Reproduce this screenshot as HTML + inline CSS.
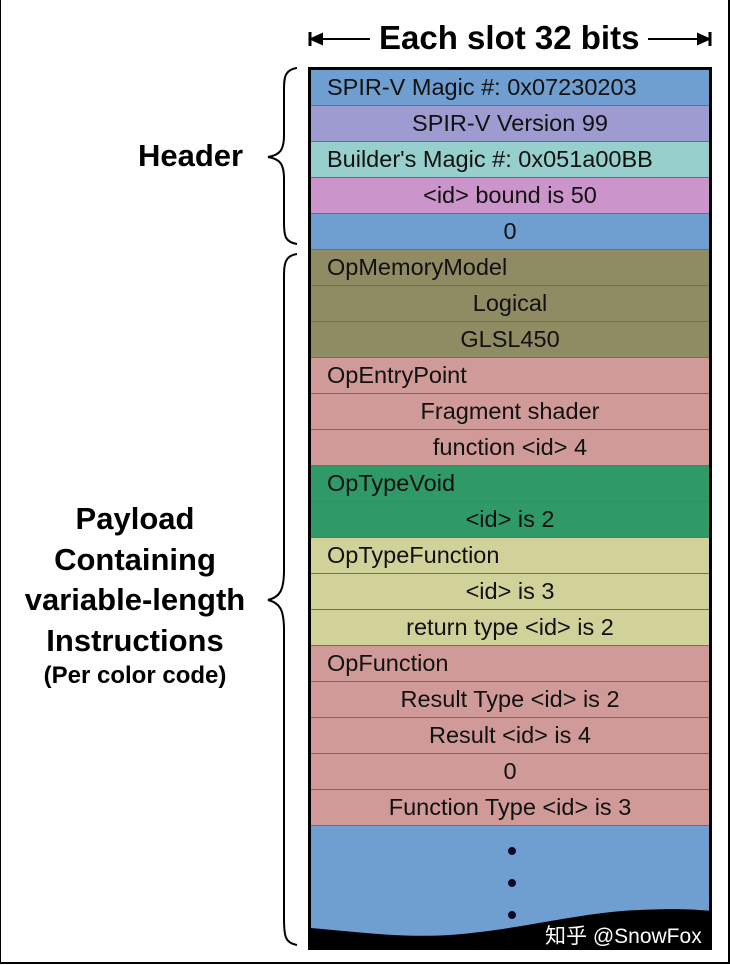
<!DOCTYPE html>
<html><head><style>
body{margin:0;width:730px;height:965px;background:#fff;position:relative;overflow:hidden;font-family:"Liberation Sans",sans-serif}
.frame{position:absolute;left:0;top:0;width:727px;height:962px;border:1px solid #000;border-width:0 2px 2px 1px}
.box{position:absolute;left:308px;top:67px;width:398px;height:877px;border:3px solid #000;background:#6f9fd1;overflow:hidden}
.r{height:35px;border-bottom:1px solid #5a6f9a;font-size:23.5px;line-height:35px;color:#111;text-align:center;white-space:nowrap}
.l{text-align:left;padding-left:16px}
.lab{position:absolute;font-weight:bold;text-align:center;color:#000;white-space:nowrap}
</style></head><body>
<div class="frame"></div>
<div class="lab" style="left:379px;top:19px;font-size:33px;line-height:38px">Each slot 32 bits</div>
<svg style="position:absolute;left:0;top:0" width="730" height="965">
<g stroke="#000" stroke-width="2" fill="#000">
<line x1="310" y1="39" x2="370" y2="39"/><line x1="310" y1="32" x2="310" y2="46" stroke-width="3"/>
<polygon points="311,39 322,34 322,44"/>
<line x1="648" y1="39" x2="710" y2="39"/><line x1="710" y1="32" x2="710" y2="46" stroke-width="3"/>
<polygon points="709,39 698,34 698,44"/>
</g>
<g fill="none" stroke="#000" stroke-width="2">
<path d="M297,68 C283,70 284,80 284,95 L284,135 C284,150 280,155 268,157 C280,159 284,164 284,179 L284,222 C284,236 285,242 297,244"/>
<path d="M297,254 C283,256 284,266 284,285 L284,570 C284,590 280,597 268,600 C280,603 284,610 284,630 L284,918 C284,936 285,943 297,945"/>
</g>
</svg>
<div class="lab" style="left:138px;top:137px;font-size:31px;line-height:38px">Header</div>
<div class="lab" style="left:0px;top:499px;width:270px;font-size:31px;line-height:40.5px">Payload<br>Containing<br>variable-length<br>Instructions<br><span style="font-size:24px;line-height:30px;display:block">(Per color code)</span></div>
<div class="box">
<div class="r l" style="background:#6f9fd1">SPIR-V Magic #: 0x07230203</div>
<div class="r" style="background:#9d9bd0">SPIR-V Version 99</div>
<div class="r l" style="background:#97cfcc">Builder's Magic #: 0x051a00BB</div>
<div class="r" style="background:#cb95cb">&lt;id&gt; bound is 50</div>
<div class="r" style="background:#6f9fd1">0</div>
<div class="r l" style="background:#8f8b63">OpMemoryModel</div>
<div class="r" style="background:#8f8b63">Logical</div>
<div class="r" style="background:#8f8b63">GLSL450</div>
<div class="r l" style="background:#d09a98">OpEntryPoint</div>
<div class="r" style="background:#d09a98">Fragment shader</div>
<div class="r" style="background:#d09a98">function &lt;id&gt; 4</div>
<div class="r l" style="background:#2f9967">OpTypeVoid</div>
<div class="r" style="background:#2f9967">&lt;id&gt; is 2</div>
<div class="r l" style="background:#d1d19a">OpTypeFunction</div>
<div class="r" style="background:#d1d19a">&lt;id&gt; is 3</div>
<div class="r" style="background:#d1d19a">return type &lt;id&gt; is 2</div>
<div class="r l" style="background:#d09a98">OpFunction</div>
<div class="r" style="background:#d09a98">Result Type &lt;id&gt; is 2</div>
<div class="r" style="background:#d09a98">Result &lt;id&gt; is 4</div>
<div class="r" style="background:#d09a98">0</div>
<div class="r" style="background:#d09a98">Function Type &lt;id&gt; is 3</div>
</div>
<svg style="position:absolute;left:0;top:0" width="730" height="965">
<g fill="#0a0a2a"><circle cx="512" cy="851" r="4"/><circle cx="512" cy="883" r="4"/><circle cx="512" cy="915" r="4"/></g>
<path d="M310,928 C360,932 400,938 450,935 C520,930 580,912 640,910 C680,908 700,910 712,911 L712,948 L310,948 Z" fill="#000"/>
</svg>
<div style="position:absolute;left:545px;top:920px;font-size:21px;color:#fff;font-family:'Liberation Sans','Noto Sans CJK SC',sans-serif;white-space:nowrap">知乎 @SnowFox</div>
</body></html>
